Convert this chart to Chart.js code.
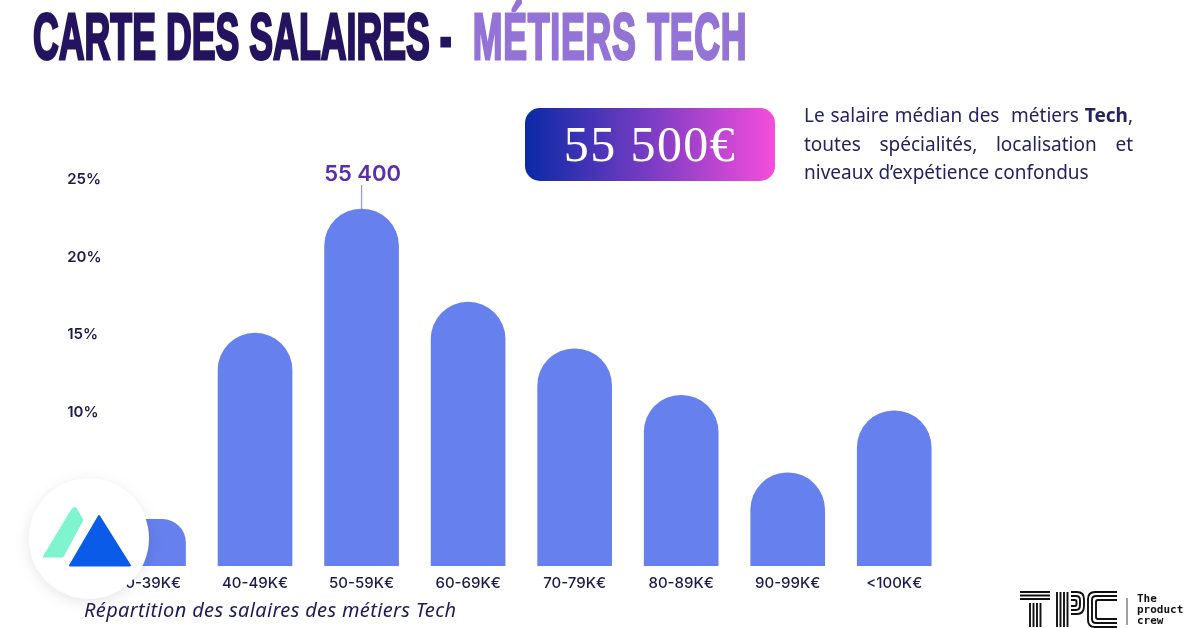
<!DOCTYPE html>
<html lang="fr">
<head>
<meta charset="utf-8">
<title>Carte des salaires - métiers Tech</title>
<script src="https://cdn.jsdelivr.net/npm/chart.js@4"></script>
<style>
  html, body { margin: 0; padding: 0; background: #fff; }
  #page { position: relative; width: 1200px; height: 628px; overflow: hidden; background: #fff; }
  #page canvas { position: absolute; left: 0; top: 0; }
  .abs { position: absolute; white-space: nowrap; }
  #title {
    left: 33px; top: -1px; font: bold 64px/76px "Liberation Sans", sans-serif;
    color: #24145f; -webkit-text-stroke: 2.8px currentColor;
    transform: scaleX(0.558); transform-origin: left top;
  }
  #title span { color: #9473d6; margin-left: 20px; letter-spacing: 1.3px; }
  #median {
    left: 525px; top: 108px; width: 250px; height: 73px; border-radius: 15px;
    background: linear-gradient(90deg, #0a2aa6 0%, #7a3cc4 50%, #f64ddc 100%);
    color: #fff; font: 50px/73px "Liberation Serif", serif; text-align: center; letter-spacing: 1.4px;
  }
  #note { left: 804px; top: 101px; width: 329px; font: 19px/28.7px "Noto Sans", sans-serif; color: #25235f; white-space: normal; }
  #note div { text-align: justify; text-align-last: justify; }
  #note div.last { text-align-last: left; }
  #caption { left: 84px; top: 598px; font: italic 20px/24px "Noto Sans", sans-serif; letter-spacing: 0.35px; color: #1e1b5c; }
  #crew { left: 1137px; top: 593px; font: bold 11px/11px "DejaVu Sans Mono", monospace; color: #111; }
</style>
</head>
<body>
<div id="page">
  <canvas id="salary-chart" width="1200" height="628"></canvas>
  <div class="abs" id="title">CARTE DES SALAIRES - <span>MÉTIERS TECH</span></div>
  <div class="abs" id="median">55 500€</div>
  <div class="abs" id="note">
    <div>Le salaire médian des&nbsp; métiers <b>Tech</b>,</div>
    <div>toutes spécialités, localisation et</div>
    <div class="last">niveaux d’expétience confondus</div>
  </div>
  <div class="abs" id="caption">Répartition des salaires des métiers Tech</div>

  <!-- round logo, sits over the first bar like in the original -->
  <svg class="abs" style="left:0;top:450px" width="190" height="178">
    <defs>
      <filter id="soft" x="-30%" y="-30%" width="160%" height="160%">
        <feDropShadow dx="0" dy="3" stdDeviation="7" flood-color="#000" flood-opacity="0.10"/>
      </filter>
    </defs>
    <circle cx="89" cy="88.5" r="60" fill="#fff" filter="url(#soft)"/>
    <path d="M43 107 L72 59 Q74 57 76 58 L83 70 L63 107 Z" fill="#7ff5cf" stroke="#7ff5cf" stroke-width="1" stroke-linejoin="round"/>
    <path d="M99 66 L130 115.5 L70 115.5 Z" fill="#0a5be8" stroke="#0a5be8" stroke-width="2" stroke-linejoin="round"/>
  </svg>

  <!-- TPC logo -->
  <svg class="abs" style="left:1015px;top:585px" width="116" height="43" fill="none" stroke="#111" stroke-width="1.9">
    <path d="M5 7H35M5 10.5H35M5 14H35"/>
    <path d="M15 18V42M18.5 18V42M22 18V42M25.5 18V42"/>
    <path d="M42 7V42M45.5 7V42M49 7V42M52.5 7V42"/>
    <path d="M56 7H62Q69 7 69 14V21Q69 29 62 29H56M56 11H61Q65 11 65 15V20Q65 25 61 25H56M56 15H60Q61.5 15 61.5 17V19Q61.5 21 60 21H56"/>
    <path d="M102 7H80Q73 7 73 14V35Q73 42 80 42H102M102 11H81Q77 11 77 15V34Q77 38 81 38H102M102 15H83Q81 15 81 17V32Q81 34 83 34H102"/>
    <path d="M112 13V40" stroke="#444" stroke-width="1"/>
  </svg>
  <div class="abs" id="crew">The<br>product<br>crew</div>
</div>

<script>
// chart values
const categories = ['30-39K€', '40-49K€', '50-59K€', '60-69K€', '70-79K€', '80-89K€', '90-99K€', '<100K€'];
const shares = [3, 15, 23, 17, 14, 11, 6, 10];
const yTicks = [10, 15, 20, 25];
const peakLabel = '55 400';
const peakIndex = 2;

// Label and small leader line above the tallest bar
const peakPlugin = {
    id: 'peakLabel',
    afterDatasetsDraw(chart) {
        const bar = chart.getDatasetMeta(0).data[peakIndex];
        const ctx = chart.ctx;
        ctx.save();
        ctx.strokeStyle = '#9aa6c4';
        ctx.lineWidth = 1.4;
        ctx.beginPath();
        ctx.moveTo(bar.x, bar.y - 24);
        ctx.lineTo(bar.x, bar.y);
        ctx.stroke();
        ctx.fillStyle = '#5a2eb0';
        ctx.font = '600 22px Inter, sans-serif';
        ctx.textAlign = 'center';
        ctx.textBaseline = 'middle';
        ctx.fillText(peakLabel, bar.x + 1, bar.y - 35);
        ctx.restore();
    }
};

const ctx = document.getElementById('salary-chart').getContext('2d');
new Chart(ctx, {
    type: 'bar',
    data: {
        labels: categories,
        datasets: [{
            data: shares,
            backgroundColor: '#6680ee',
            barThickness: 74,
            borderSkipped: false,
            borderRadius: { topLeft: 37, topRight: 37, bottomLeft: 0, bottomRight: 0 }
        }]
    },
    options: {
        responsive: false,
        animation: false,
        layout: { padding: { top: 178, right: 252.5, left: 0, bottom: 0 } },
        plugins: { legend: { display: false }, tooltip: { enabled: false } },
        scales: {
            x: {
                grid: { display: false, drawTicks: false },
                border: { display: false },
                afterFit(scale) { scale.height = 62; },
                ticks: {
                    color: '#1c1a50',
                    padding: 8,
                    maxRotation: 0,
                    font: { family: 'Inter', size: 15, weight: '500' }
                }
            },
            y: {
                min: 0,
                max: 25,
                grid: { display: false, drawTicks: false },
                border: { display: false },
                afterFit(scale) { scale.width = 95.25; },
                ticks: {
                    stepSize: 5,
                    color: '#1c1a50',
                    // mirror stops the labels being clipped at the axis box
                    mirror: true,
                    padding: -28,
                    labelOffset: 1.5,
                    font: { family: 'Inter', size: 15, weight: '600' },
                    callback: value => yTicks.includes(value) ? value + '%' : ''
                }
            }
        }
    },
    plugins: [peakPlugin]
});
</script>
</body>
</html>
